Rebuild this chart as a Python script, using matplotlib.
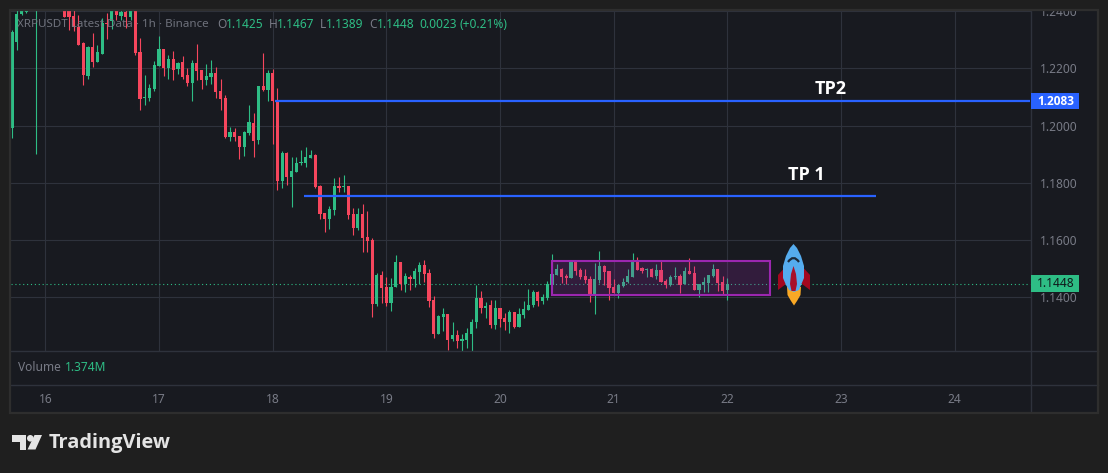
import numpy as np
import matplotlib
matplotlib.use("Agg")
import matplotlib.pyplot as plt
from matplotlib.patches import Polygon, Rectangle, Circle, PathPatch
from matplotlib.path import Path

plt.rcParams['font.family'] = ['Noto Sans', 'DejaVu Sans']

nan = float('nan')
opens = [1.1992,1.2293,1.2390,1.2397,nan,1.2440,nan,nan,nan,nan,nan,
 1.2420,1.2420,1.2383,1.2343,1.2289,1.2173,1.2275,1.2222,1.2250,1.2359,1.2366,1.2415,1.2384,1.2395,1.2380,1.2415,1.2257,
 1.2097,1.2096,1.2128,1.2208,1.2267,1.2201,1.2232,1.2197,1.2222,1.2176,1.2148,1.2218,1.2194,1.2159,1.2169,1.2183,1.2121,1.2096,
 1.1960,1.1977,1.1963,1.1925,1.1974,1.2009,1.1949,1.2138,1.2124,1.2183,1.2089,
 1.1806,1.1904,1.1820,1.1838,1.1870,1.1869,1.1886,1.1897,1.1789,1.1694,1.1673,1.1705,1.1789,1.1785,1.1789,1.1691,1.1642,1.1691,
 1.1610,1.1600,1.1376,1.1478,1.1436,1.1380,1.1436,1.1523,1.1446,1.1471,1.1464,1.1488,1.1513,1.1485,1.1390,1.1272,1.1331,1.1341,
 1.1254,1.1268,
 1.1247,1.1251,1.1272,1.1314,1.1397,1.1362,1.1373,1.1303,1.1362,1.1328,1.1314,1.1348,1.1296,1.1338,1.1355,1.1373,1.1418,1.1387,
 1.1397,1.1443,1.1478,1.1499,1.1474,1.1467,1.1523,1.1495,1.1474,1.1464,1.1408,1.1460,1.1509,1.1492,1.1436,1.1415,
 1.1439,1.1453,1.1471,1.1527,1.1502,1.1495,1.1499,1.1474,1.1495,1.1457,1.1443,1.1470,1.1474,1.1446,1.1492,1.1485,1.1425,1.1443,
 1.1450,1.1474,1.1499,1.1453,1.1425]
highs = [1.2334,1.2415,1.2410,1.2420,nan,1.2490,nan,nan,nan,nan,nan,
 1.2430,1.2430,1.2410,1.2386,1.2292,1.2278,1.2322,1.2281,1.2374,1.2392,1.2415,1.2425,1.2410,1.2410,1.2415,1.2425,1.2304,
 1.2176,1.2145,1.2225,1.2313,1.2267,1.2246,1.2260,1.2222,1.2243,1.2201,1.2229,1.2285,1.2194,1.2215,1.2229,1.2204,1.2162,1.2107,
 1.1995,1.1991,1.1963,1.1981,1.2072,1.2044,1.2138,1.2253,1.2194,1.2197,1.2130,
 1.1911,1.1907,1.1890,1.1890,1.1914,1.1925,1.1914,1.1900,1.1792,1.1694,1.1719,1.1817,1.1820,1.1827,1.1789,1.1712,1.1712,1.1726,
 1.1701,1.1607,1.1485,1.1492,1.1471,1.1467,1.1548,1.1523,1.1485,1.1478,1.1502,1.1523,1.1530,1.1499,1.1404,1.1338,1.1362,1.1341,
 1.1313,1.1286,
 1.1272,1.1293,1.1324,1.1443,1.1422,1.1383,1.1390,1.1390,1.1362,1.1345,1.1355,1.1348,1.1362,1.1387,1.1429,1.1425,1.1422,1.1411,
 1.1457,1.1551,1.1516,1.1502,1.1481,1.1530,1.1523,1.1502,1.1499,1.1474,1.1520,1.1562,1.1513,1.1492,1.1464,1.1446,
 1.1467,1.1499,1.1555,1.1541,1.1506,1.1502,1.1502,1.1516,1.1527,1.1464,1.1478,1.1506,1.1481,1.1506,1.1537,1.1509,1.1446,1.1471,
 1.1478,1.1516,1.1499,1.1474,1.1467]
lows = [1.1957,1.2264,1.2385,1.2392,nan,1.1900,nan,nan,nan,nan,nan,
 1.2378,1.2334,1.2331,1.2281,1.2141,1.2164,1.2206,1.2222,1.2250,1.2302,1.2336,1.2369,1.2369,1.2339,1.2369,1.2246,1.2054,
 1.2072,1.2086,1.2122,1.2208,1.2173,1.2164,1.2159,1.2180,1.2162,1.2138,1.2086,1.2159,1.2128,1.2141,1.2145,1.2096,1.2054,1.1955,
 1.1946,1.1946,1.1883,1.1893,1.1967,1.1890,1.1935,1.2119,1.2086,1.1935,1.1775,
 1.1782,1.1792,1.1715,1.1838,1.1862,1.1855,1.1886,1.1782,1.1673,1.1628,1.1638,1.1687,1.1768,1.1768,1.1673,1.1617,1.1635,1.1558,
 1.1558,1.1331,1.1369,1.1380,1.1369,1.1352,1.1436,1.1425,1.1418,1.1425,1.1436,1.1446,1.1453,1.1366,1.1258,1.1272,1.1282,1.1216,
 1.1247,1.1222,
 1.1212,1.1223,1.1212,1.1293,1.1345,1.1328,1.1293,1.1289,1.1296,1.1286,1.1275,1.1293,1.1296,1.1328,1.1355,1.1366,1.1369,1.1376,
 1.1390,1.1429,1.1478,1.1450,1.1446,1.1467,1.1478,1.1464,1.1450,1.1383,1.1341,1.1450,1.1443,1.1390,1.1415,1.1397,
 1.1436,1.1450,1.1471,1.1495,1.1485,1.1471,1.1471,1.1464,1.1453,1.1432,1.1439,1.1464,1.1415,1.1446,1.1481,1.1425,1.1401,1.1418,
 1.1418,1.1471,1.1422,1.1411,1.1389]
closes = [1.2325,1.2390,1.2400,1.2404,nan,1.2470,nan,nan,nan,nan,nan,
 1.2380,1.2380,1.2343,1.2281,1.2176,1.2275,1.2223,1.2258,1.2359,1.2355,1.2404,1.2386,1.2395,1.2380,1.2404,1.2254,1.2094,
 1.2100,1.2131,1.2211,1.2267,1.2201,1.2232,1.2194,1.2218,1.2169,1.2148,1.2218,1.2190,1.2159,1.2173,1.2183,1.2117,1.2093,1.1960,
 1.1977,1.1960,1.1925,1.1977,1.2012,1.1946,1.2138,1.2124,1.2183,1.2086,1.1806,
 1.1904,1.1820,1.1841,1.1869,1.1872,1.1890,1.1897,1.1785,1.1691,1.1673,1.1708,1.1789,1.1782,1.1789,1.1687,1.1642,1.1691,1.1607,
 1.1596,1.1376,1.1478,1.1432,1.1380,1.1436,1.1523,1.1446,1.1474,1.1464,1.1492,1.1513,1.1481,1.1387,1.1272,1.1335,1.1341,1.1251,
 1.1268,1.1247,
 1.1254,1.1275,1.1314,1.1397,1.1362,1.1369,1.1303,1.1362,1.1324,1.1314,1.1348,1.1296,1.1341,1.1359,1.1373,1.1418,1.1387,1.1401,
 1.1446,1.1481,1.1499,1.1471,1.1467,1.1523,1.1492,1.1471,1.1460,1.1408,1.1464,1.1509,1.1488,1.1432,1.1415,1.1443,
 1.1453,1.1474,1.1527,1.1495,1.1492,1.1499,1.1471,1.1495,1.1453,1.1443,1.1471,1.1473,1.1443,1.1492,1.1481,1.1425,1.1446,1.1453,
 1.1478,1.1499,1.1450,1.1422,1.1448]
price_ticks = [1.14, 1.16, 1.18, 1.20, 1.22, 1.24]
day_ticks = [16, 17, 18, 19, 20, 21, 22, 23, 24]
tp2_level, tp1_level, last_level = 1.2087, 1.1752, 1.1445
tp2_start, tp1_start, tp1_end = 18.02, 18.28, 23.31
box_days = (20.455, 22.375)
box_prices = (1.1408, 1.1527)

BG, FIGBG = '#181a20', '#1f1f1f'
GRID, EDGE = '#2e323c', '#2e2e2e'
UP, DOWN = '#2ebd85', '#f6465d'
BLUE, MUTED = '#2962ff', '#787b86'
W, H = 1108, 473

fig = plt.figure(figsize=(W/100, H/100), dpi=100, facecolor=FIGBG)
# dark panel behind all panes (figure level, below the axes)
fig.add_artist(Rectangle((10/W, 1-412.5/H), 1088/W, 402.5/H, transform=fig.transFigure,
                         facecolor=BG, lw=0, zorder=-1))
# pane rectangle in pixels: x 10.5..1030.5, y 10..351
ax = fig.add_axes([10.5/W, 1-351/H, 1020/W, 341/H], facecolor=BG)
ppd = 113.67
ax.set_xlim(16-(45.3-10.5)/ppd, 16+(1030.5-45.3)/ppd)
ppu = 2862.5
ax.set_ylim(1.20-(351-125.5)/ppu, 1.20+(125.5-10)/ppu)
for s in ax.spines.values():
    s.set_visible(False)
ax.grid(True, color=GRID, lw=0.8, zorder=0)
ax.set_axisbelow(True)
ax.yaxis.tick_right()
ax.set_yticks(price_ticks, [f'{p:.4f}' for p in price_ticks])
ax.set_xticks(day_ticks, [str(d) for d in day_ticks])
ax.tick_params(axis='y', length=0, pad=6.5, labelsize=8.6, labelcolor=MUTED)
ax.tick_params(axis='x', length=0, pad=30.5, labelsize=8.6, labelcolor=MUTED)

o, h, l, c = map(np.array, (opens, highs, lows, closes))
days = 16 + (np.arange(len(o)) - 7) / 24
mask = ~np.isnan(o)
days, o, h, l, c = days[mask], o[mask], h[mask], l[mask], c[mask]
cols = np.where(c >= o, UP, DOWN)
ax.vlines(days, l, h, colors=cols, lw=0.8, zorder=3)
ax.bar(days, np.maximum(np.abs(c-o), 0.00025), bottom=np.minimum(o, c), width=3.2/ppd,
       color=cols, lw=0, zorder=3)

# drawings
ax.add_patch(Rectangle((box_days[0], box_prices[0]), box_days[1]-box_days[0], box_prices[1]-box_prices[0],
                       facecolor='#9c27b0', alpha=0.2, lw=0, zorder=4))
ax.add_patch(Rectangle((box_days[0], box_prices[0]), box_days[1]-box_days[0], box_prices[1]-box_prices[0],
                       fill=False, edgecolor='#9c27b0', lw=1.5, zorder=4))
ax.plot([tp2_start, ax.get_xlim()[1]], [tp2_level]*2, color=BLUE, lw=1.6, zorder=5, solid_capstyle='butt')
ax.plot([tp1_start, tp1_end], [tp1_level]*2, color=BLUE, lw=1.6, zorder=5, solid_capstyle='butt')
ax.plot(ax.get_xlim(), [last_level]*2, color=UP, lw=0.8, ls=(0, (1, 2.5)), zorder=2)

# pixel-space overlay
ov = fig.add_axes([0, 0, 1, 1], facecolor='none')
ov.set_xlim(0, W); ov.set_ylim(H, 0); ov.axis('off')
ov.add_patch(Rectangle((0, 0), W, 9, facecolor=FIGBG, lw=0, zorder=1))
ov.plot([10, 1098], [351, 351], color=GRID, lw=1, zorder=2)
ov.plot([10, 1098], [385.3, 385.3], color=GRID, lw=1, zorder=2)
ov.plot([1030.7, 1030.7], [10, 412], color=GRID, lw=1, zorder=2)
ov.add_patch(Rectangle((10, 10), 1088, 402.5, fill=False, edgecolor=EDGE, lw=1.6, zorder=3))

txt = dict(va='center', ha='left', fontsize=8.6, zorder=6)
ov.text(17, 24.7, 'XRPUSDT Latest Data · 1h · Binance', color=MUTED, alpha=0.9,
        va='center', ha='left', fontsize=8.35, zorder=6)
for xp, s, col in [(217, 'O', MUTED), (226, '1.1425', UP), (269, 'H', MUTED), (277, '1.1467', UP),
                   (320, 'L', MUTED), (326, '1.1389', UP), (369, 'C', MUTED), (377, '1.1448', UP),
                   (419, '0.0023', UP), (459, '(+0.21%)', UP)]:
    ov.text(xp, 24.7, s, color=col, **txt)
ov.text(18, 367, 'Volume', color=MUTED, **txt)
ov.text(65, 367, '1.374M', color=UP, **txt)

ov.add_patch(Rectangle((1031, 93), 48, 16.5, facecolor=BLUE, lw=0, zorder=5))
ov.text(1056, 101.3, '1.2083', color='white', ha='center', va='center', fontsize=8.6,
        family='Open Sans', fontweight='bold', zorder=6)
ov.add_patch(Rectangle((1031, 275), 48, 17, facecolor=UP, lw=0, zorder=5))
ov.text(1056, 283.7, '1.1448', color='#10181a', ha='center', va='center', fontsize=8.6, zorder=6)

ov.text(831, 89.5, 'TP2', color='white', ha='center', va='center', fontsize=13, family='Open Sans',
        fontweight='bold', zorder=6)
ov.text(806, 174.5, 'TP 1', color='white', ha='center', va='center', fontsize=13, family='Open Sans',
        fontweight='bold', zorder=6)

# rocket (glyph, in pixels)
def rocket(points, col):
    ov.add_patch(Polygon(points, closed=True, facecolor=col, lw=0, zorder=6))
rocket([(778, 275), (789, 263), (790, 283), (786, 284), (778, 290)], '#a3081f')
rocket([(810, 275), (799, 263), (798, 283), (802, 284), (810, 290)], '#a3081f')
rocket([(787, 287), (801, 287), (800.5, 295), (797, 301), (794, 305.5), (791, 301), (787.5, 295)], '#f9a825')
rocket([(793.5, 244), (797, 248), (801, 256), (804, 266), (804, 278), (801, 285), (799, 290), (794, 292),
        (789, 290), (786, 285), (783, 278), (783, 266), (786, 256), (790, 248)], '#55acee')
rocket([(793.5, 266), (796, 274), (797, 284), (795.5, 291), (791.5, 291), (790, 284), (791, 274)], '#a8102a')
ov.add_patch(PathPatch(Path([(788, 262), (793.5, 254), (799, 262)], [Path.MOVETO, Path.CURVE3, Path.CURVE3]),
                       fill=False, edgecolor='#1c2a3a', lw=1.6, zorder=7))

# TradingView logo
logo = '#e4e4e4'
ov.add_patch(Polygon([(12, 435), (26, 435), (26, 449.5), (19.5, 449.5), (19.5, 441.7), (12, 441.7)], facecolor=logo, lw=0))
ov.add_patch(Circle((30.3, 438.3), 3.3, facecolor=logo, lw=0))
ov.add_patch(Polygon([(34.5, 435), (42, 435), (35.5, 449.5), (27.5, 449.5)], facecolor=logo, lw=0))
ov.text(48.5, 443, 'TradingView', color=logo, ha='left', va='center', fontsize=14.4, family='Open Sans',
        fontweight='bold')

fig.savefig('out.png', dpi=100, facecolor=FIGBG)
